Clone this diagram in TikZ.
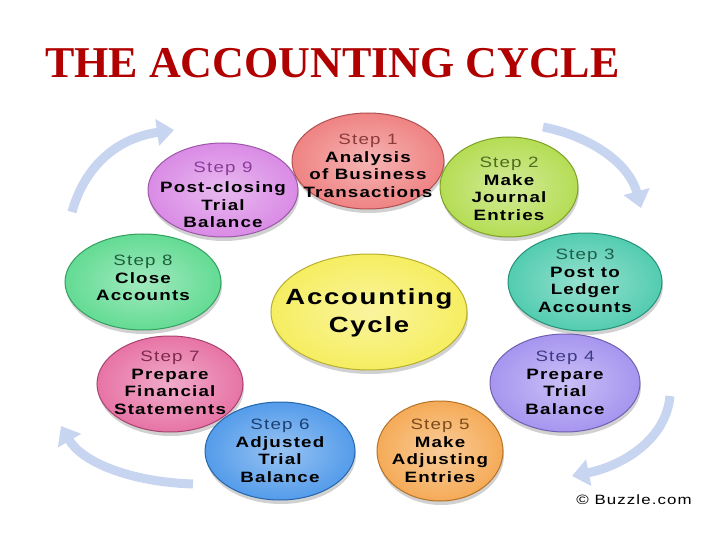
\documentclass[tikz,border=0pt]{standalone}
\usepackage{fontspec}
\setmainfont{Liberation Sans}
\newfontfamily\titlefont{Liberation Serif}
\newfontfamily\stepfont[FakeStretch=1.25,LetterSpace=8]{Liberation Sans}
\usetikzlibrary{arrows.meta,shadows,shapes.geometric}
\definecolor{titlered}{HTML}{B00000}
\definecolor{arr}{HTML}{C8D5F0}
\definecolor{c1}{HTML}{EC6A6A}\definecolor{L1}{HTML}{8A3A3A}
\definecolor{c2}{HTML}{A6D632}\definecolor{L2}{HTML}{4F6B22}
\definecolor{c3}{HTML}{30C2A0}\definecolor{L3}{HTML}{1F5E4E}
\definecolor{c4}{HTML}{9580EC}\definecolor{L4}{HTML}{3E3A85}
\definecolor{c5}{HTML}{F39A36}\definecolor{L5}{HTML}{7D4A1C}
\definecolor{c6}{HTML}{3288E6}\definecolor{L6}{HTML}{1C3F72}
\definecolor{c7}{HTML}{E25894}\definecolor{L7}{HTML}{7D2A4E}
\definecolor{c8}{HTML}{44D47E}\definecolor{L8}{HTML}{1F5E3C}
\definecolor{c9}{HTML}{D274E0}\definecolor{L9}{HTML}{8A3C99}
\definecolor{c0}{HTML}{F4EA40}
\newcommand\mkglossy[2]{\pgfdeclareradialshading{#1}{\pgfpoint{0bp}{0bp}}{color(0bp)=(#2!50!white); color(24bp)=(#2!82!white); color(42bp)=(#2); color(50bp)=(#2!78!black); color(60bp)=(#2!75!black)}}
\mkglossy{gc1}{c1}\mkglossy{gc2}{c2}\mkglossy{gc3}{c3}\mkglossy{gc4}{c4}\mkglossy{gc5}{c5}
\mkglossy{gc6}{c6}\mkglossy{gc7}{c7}\mkglossy{gc8}{c8}\mkglossy{gc9}{c9}\mkglossy{gc0}{c0}
\newcommand\steplab[2]{\textcolor{#1}{\mdseries #2}}
\begin{document}
\begin{tikzpicture}[x=1pt,y=-1pt,
  ell/.style={ellipse, inner sep=0pt, shade, shading=g#1, draw=#1!75!black, line width=1pt,
    drop shadow={shadow xshift=1pt,shadow yshift=-4pt,opacity=0.18,fill=black}},
  steptext/.style={align=center, inner sep=0pt, font=\stepfont\fontsize{15}{17.5}\selectfont\bfseries},
  cycarrow/.style={draw=arr, line width=9pt, -{Triangle[width=26pt,length=17pt]}}]
\fill[white] (0,0) rectangle (720,540);
\useasboundingbox (0,0) rectangle (720,540);
\node[anchor=base west, inner sep=0pt, text=titlered, font=\titlefont\fontsize{44}{44}\selectfont\bfseries] (title) at (45,78) {THE ACCOUNTING CYCLE};
% arrows
\coordinate (a1s) at (72,212); \coordinate (a1e) at (174,130);
\coordinate (a2s) at (543,127); \coordinate (a2e) at (641,208);
\coordinate (a3s) at (670,396); \coordinate (a3e) at (572,476);
\coordinate (a4s) at (193,484); \coordinate (a4e) at (61,426);
\draw[cycarrow] (a1s) .. controls (85,165) and (118,138) .. (a1e);
\draw[cycarrow] (a2s) .. controls (585,135) and (628,160) .. (a2e);
\draw[cycarrow] (a3s) .. controls (666,440) and (622,466) .. (a3e);
\draw[cycarrow] (a4s) .. controls (130,482) and (82,462) .. (a4e);
% ellipses
\node[ell=c9, minimum width=150pt, minimum height=94pt] (s9) at (223,190) {};
\node[ell=c1, minimum width=152pt, minimum height=96pt] (s1) at (368,161) {};
\node[ell=c2, minimum width=138pt, minimum height=100pt] (s2) at (509,187) {};
\node[ell=c8, minimum width=156pt, minimum height=96pt] (s8) at (143,282) {};
\node[ell=c3, minimum width=154pt, minimum height=98pt] (s3) at (585,282) {};
\node[ell=c0, minimum width=196pt, minimum height=116pt] (s0) at (369,312) {};
\node[ell=c7, minimum width=146pt, minimum height=96pt] (s7) at (170,384) {};
\node[ell=c4, minimum width=150pt, minimum height=98pt] (s4) at (565,383) {};
\node[ell=c6, minimum width=150pt, minimum height=98pt] (s6) at (280,451) {};
\node[ell=c5, minimum width=126pt, minimum height=100pt] (s5) at (440,451) {};
% texts
\node[steptext] (t1) at ([yshift=-5pt]s1.center) {\steplab{L1}{Step 1}\\Analysis\\of Business\\Transactions};
\node[steptext] (t9) at ([yshift=-5pt]s9.center) {\steplab{L9}{Step 9}\\[3pt]Post-closing\\Trial\\Balance};
\node[steptext] (t2) at ([yshift=-2pt]s2.center) {\steplab{L2}{Step 2}\\Make\\Journal\\Entries};
\node[steptext] (t3) at ([yshift=1pt]s3.center) {\steplab{L3}{Step 3}\\Post to\\Ledger\\Accounts};
\node[steptext] (t4) at (s4.center) {\steplab{L4}{Step 4}\\Prepare\\Trial\\Balance};
\node[steptext] (t5) at (s5.center) {\steplab{L5}{Step 5}\\Make\\Adjusting\\Entries};
\node[steptext] (t6) at (s6.center) {\steplab{L6}{Step 6}\\Adjusted\\Trial\\Balance};
\node[steptext] (t7) at ([yshift=1pt]s7.center) {\steplab{L7}{Step 7}\\Prepare\\Financial\\Statements};
\node[steptext] (t8) at ([yshift=4pt]s8.center) {\steplab{L8}{Step 8}\\Close\\Accounts};
\node[align=center, inner sep=0pt, font=\stepfont\fontsize{22}{28}\selectfont\bfseries] (t0) at ([yshift=-1pt]s0.center) {Accounting\\Cycle};
\node[inner sep=0pt, font=\stepfont\fontsize{13.5}{14}\selectfont] (copy) at (634,500) {© Buzzle.com};
\end{tikzpicture}
\end{document}
